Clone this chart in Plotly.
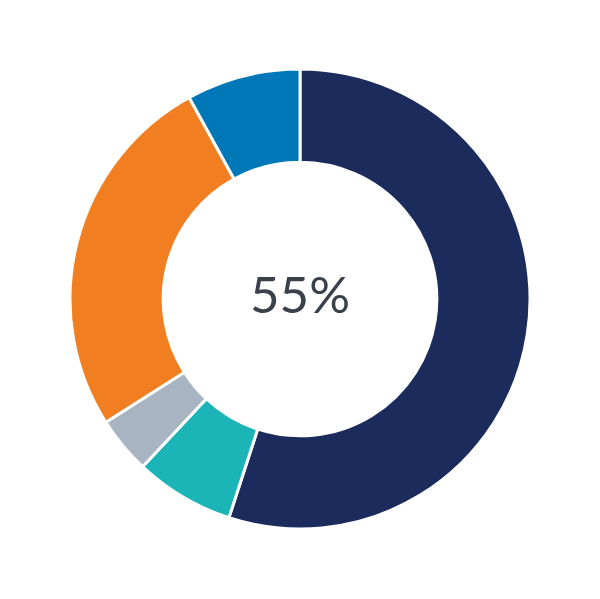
import plotly.graph_objects as go

labels = ["A", "B", "C", "D", "E"]
values = [55, 7, 4, 26, 8]
colors = ["#1b2b5b", "#1bb5b7", "#a9b4c2", "#f27e22", "#0077b6"]
center_text = "55%"

fig = go.Figure(go.Pie(
    labels=labels, values=values, hole=0.595, sort=False, direction="clockwise",
    rotation=0, marker=dict(colors=colors, line=dict(color="white", width=3)),
    textinfo="none", hoverinfo="label+percent", showlegend=False,
))
fig.add_annotation(text=center_text, x=0.5, y=0.5, xref="paper", yref="paper",
                   showarrow=False, yshift=6,
                   font=dict(family="Lato", size=51, color="#3a414b"))
fig.update_layout(width=584, height=583, margin=dict(l=62, r=62, t=61, b=62),
                  paper_bgcolor="white", plot_bgcolor="white")
fig.write_html("out.html")
